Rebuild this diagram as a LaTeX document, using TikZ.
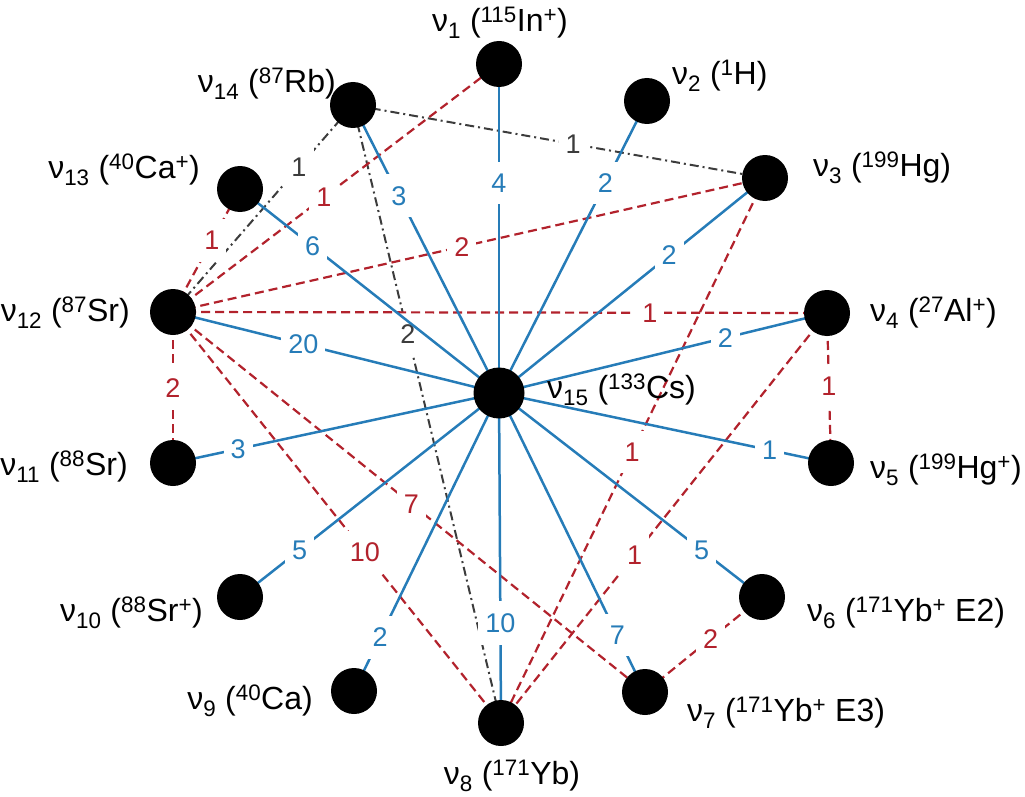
\documentclass[tikz,border=0pt]{standalone}
\usepackage{fontspec}
\setmainfont{Liberation Sans}
\definecolor{cblue}{RGB}{38,124,184}
\definecolor{cred}{RGB}{178,34,44}
\definecolor{cgray}{RGB}{60,60,60}
\newcommand{\isolab}[3]{ν\textsubscript{#1} (\textsuperscript{#2}#3)}
\pgfdeclarelayer{bg}
\pgfsetlayers{bg,main}
\tikzset{
  dot/.style={circle, fill=black, minimum size=46pt, inner sep=0pt},
  bigdot/.style={circle, fill=black, minimum size=51pt, inner sep=0pt},
  blueedge/.style={draw=cblue, line width=2.5pt},
  rededge/.style={draw=cred, line width=2.2pt, dash pattern=on 9pt off 5pt},
  dotedge/.style={draw=cgray, line width=2pt, dash pattern=on 9pt off 4pt on 2pt off 4pt},
  lbl/.style={fill=white, inner xsep=7pt, inner ysep=12pt, font=\fontsize{27}{32}\selectfont},
  bl/.style={lbl, text=cblue},
  rl/.style={lbl, text=cred},
  gl/.style={lbl, text=cgray},
  txt/.style={font=\fontsize{32}{38}\selectfont, inner sep=0pt, text=black},
}
\begin{document}
\begin{tikzpicture}[x=1pt,y=-1pt]
\useasboundingbox (0,0) rectangle (1025,797);
% nodes
\node[dot] (n1) at (499,64) {};
\node[dot] (n2) at (647,101) {};
\node[dot] (n3) at (765,178) {};
\node[dot] (n4) at (827,313) {};
\node[dot] (n5) at (831,463) {};
\node[dot] (n6) at (762,597) {};
\node[dot] (n7) at (645,692) {};
\node[dot] (n8) at (501,723) {};
\node[dot] (n9) at (354,691) {};
\node[dot] (n10) at (240,597) {};
\node[dot] (n11) at (173,463) {};
\node[dot] (n12) at (173,312) {};
\node[dot] (n13) at (240,189) {};
\node[dot] (n14) at (353,105) {};
\node[bigdot] (n15) at (499,393) {};
% text labels
\node[txt] (t1) at (500,23) {\isolab{1}{115}{In\textsuperscript{+}}};
\node[txt, anchor=west] (t2) at (672,76) {\isolab{2}{1}{H}};
\node[txt, anchor=west] (t3) at (813,168) {\isolab{3}{199}{Hg}};
\node[txt, anchor=west] (t4) at (870,313) {\isolab{4}{27}{Al\textsuperscript{+}}};
\node[txt, anchor=west] (t5) at (870,470) {\isolab{5}{199}{Hg\textsuperscript{+}}};
\node[txt, anchor=west] (t6) at (807,613) {\isolab{6}{171}{Yb\textsuperscript{+} E2}};
\node[txt, anchor=west] (t7) at (687,713) {\isolab{7}{171}{Yb\textsuperscript{+} E3}};
\node[txt] (t8) at (512,776) {\isolab{8}{171}{Yb}};
\node[txt, anchor=east] (t9) at (313,701) {\isolab{9}{40}{Ca}};
\node[txt, anchor=east] (t10) at (203,613) {\isolab{10}{88}{Sr\textsuperscript{+}}};
\node[txt, anchor=east] (t11) at (128,467) {\isolab{11}{88}{Sr}};
\node[txt, anchor=east] (t12) at (130,313) {\isolab{12}{87}{Sr}};
\node[txt, anchor=east] (t13) at (200,170) {\isolab{13}{40}{Ca\textsuperscript{+}}};
\node[txt, anchor=east] (t14) at (336,84) {\isolab{14}{87}{Rb}};
\node[txt, anchor=west] (t15) at (547,390) {\isolab{15}{133}{Cs}};
\begin{pgfonlayer}{bg}
% dash-dot edges
\draw[dotedge] (n14.center) -- node[gl,pos=0.534]{1} (n3.center);
\draw[dotedge] (n14.center) -- node[gl,pos=0.30]{1} (n12.center);
\draw[dotedge] (n14.center) -- node[gl,pos=0.37]{2} (n8.center);
% red dashed edges
\draw[rededge] (n12.center) -- node[rl,pos=0.463]{1} (n1.center);
\draw[rededge] (n12.center) -- node[rl,pos=0.58]{1} (n13.center);
\draw[rededge] (n12.center) -- node[rl,pos=0.488]{2} (n3.center);
\draw[rededge] (n12.center) -- node[rl,pos=0.729]{1} (n4.center);
\draw[rededge] (n12.center) -- node[rl,pos=0.503]{2} (n11.center);
\draw[rededge] (n12.center) -- node[rl,pos=0.505]{7} (n7.center);
\draw[rededge] (n12.center) -- node[rl,pos=0.585]{10} (n8.center);
\draw[rededge] (n3.center) -- node[rl,pos=0.503]{1} (n8.center);
\draw[rededge] (n4.center) -- node[rl,pos=0.59]{1} (n8.center);
\draw[rededge] (n4.center) -- node[rl,pos=0.487]{1} (n5.center);
\draw[rededge] (n6.center) -- node[rl,pos=0.44]{2} (n7.center);
% blue solid edges
\draw[blueedge] (n15.center) -- node[bl,pos=0.638]{4} (n1.center);
\draw[blueedge] (n15.center) -- node[bl,pos=0.719]{2} (n2.center);
\draw[blueedge] (n15.center) -- node[bl,pos=0.64]{2} (n3.center);
\draw[blueedge] (n15.center) -- node[bl,pos=0.69]{2} (n4.center);
\draw[blueedge] (n15.center) -- node[bl,pos=0.815]{1} (n5.center);
\draw[blueedge] (n15.center) -- node[bl,pos=0.77]{5} (n6.center);
\draw[blueedge] (n15.center) -- node[bl,pos=0.81]{7} (n7.center);
\draw[blueedge] (n15.center) -- node[bl,pos=0.697]{10} (n8.center);
\draw[blueedge] (n15.center) -- node[bl,pos=0.82]{2} (n9.center);
\draw[blueedge] (n15.center) -- node[bl,pos=0.77]{5} (n10.center);
\draw[blueedge] (n15.center) -- node[bl,pos=0.80]{3} (n11.center);
\draw[blueedge] (n15.center) -- node[bl,pos=0.60]{20} (n12.center);
\draw[blueedge] (n15.center) -- node[bl,pos=0.72]{6} (n13.center);
\draw[blueedge] (n15.center) -- node[bl,pos=0.685]{3} (n14.center);
\end{pgfonlayer}
\end{tikzpicture}
\end{document}
